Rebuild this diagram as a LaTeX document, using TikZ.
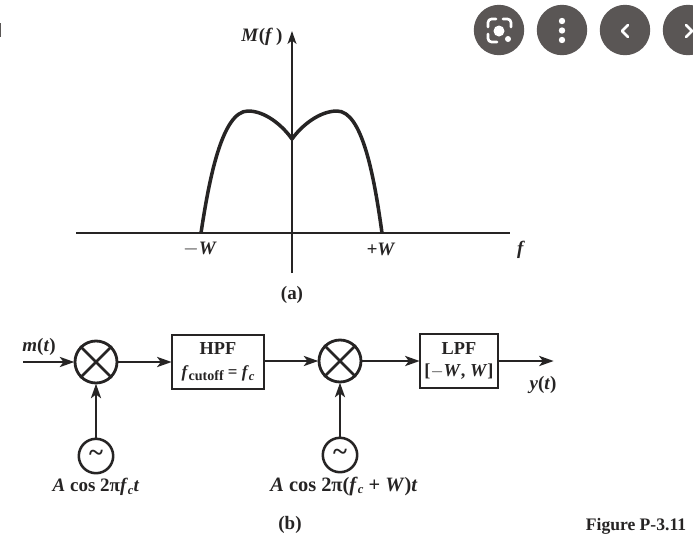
\documentclass[tikz,border=0pt]{standalone}
\usepackage{fontspec}
\setmainfont{Liberation Serif}
\usetikzlibrary{positioning}
\usetikzlibrary{arrows.meta}
\definecolor{ink}{HTML}{262424}
\definecolor{btn}{HTML}{5A5655}
\newcommand{\bi}[1]{\textbf{\textit{#1}}}
\newcommand{\subc}{\raisebox{-2pt}{\fontsize{9}{9}\selectfont\bi{c}}}
\newcommand{\wave}{\raisebox{-2pt}{\fontsize{19}{19}\selectfont\bfseries\symbol{"7E}}}
\begin{document}
\begin{tikzpicture}
  [x=0.025cm,y=-0.025cm,
  mixer/.style={circle,draw=ink,line width=2pt,inner sep=0pt,minimum size=1.05cm},
  osc/.style={circle,draw=ink,line width=1.8pt,inner sep=0pt,minimum size=.86cm,text=ink},
  filter/.style={rectangle,draw=ink,line width=1.5pt,inner sep=0pt,align=center,font=\fontsize{13}{15}\selectfont\bfseries,text=ink},
  lbl/.style={inner sep=0pt,text=ink,font=\fontsize{13.5}{15}\selectfont\bfseries},
  wire/.style={draw=ink,line width=1.9pt,-{Stealth[length=3.6mm,width=2.5mm,inset=.9mm]},shorten >=-.5pt},
  axis/.style={draw=ink,line width=1.3pt},
  cross/.style={draw=ink,line width=1.8pt},
  button/.style={circle,fill=btn,inner sep=0pt,minimum size=1.26cm},
  icon/.style={white,line width=1.9pt,line cap=round,line join=round}]
  \clip (0,0) rectangle (693,542);
  \fill[white] (0,0) rectangle (693,542);
  \fill[btn] (0,23) rectangle (1,37);

  % spectrum
  \coordinate (xl) at (76,233);
  \coordinate (xr) at (510,233);
  \coordinate (yb) at (292,273);
  \coordinate (yt) at (292,31);
  \draw[axis] (xl) -- (xr);
  \draw[axis,-{Stealth[length=3.2mm,width=2.2mm,inset=.8mm]}] (yb) -- (yt);
  \draw[ink,line width=2.5pt,line join=round] (201,233) .. controls (209,180) and (222,111) .. (248,111)
    .. controls (265,111) and (282,125) .. (292,139)
    .. controls (302,125) and (320,111) .. (337,111)
    .. controls (362,111) and (374,175) .. (382,233);
  \node[lbl] (mlabel) at (262,37) {\bi{M}(\bi{f}\,)};
  \node[lbl] (wneg) at (200,249) {\bi{$-$W}};
  \node[lbl] (wpos) at (381,249) {\bi{+W}};
  \node[lbl] (flabel) at (521,250) {\bi{f}};
  \node[lbl] (parta) at (292,295) {(a)};

  % block diagram
  \coordinate (in) at (23,362);
  \coordinate (out) at (553,361);
  \node[mixer] (mix1) at (96,362) {};
  \node[mixer] (mix2) at (340,361) {};
  \node[filter,minimum width=2.3cm,minimum height=1.37cm] (hpf) at (218,362) {HPF\\[1pt]{\fontsize{12}{14}\selectfont\bi{f}\raisebox{-2pt}{\fontsize{10}{10}\selectfont cutoff} = \bi{f}\subc}};
  \node[filter,minimum width=1.95cm,minimum height=1.37cm] (lpf) at (459,361) {LPF\\[1pt]{[}$-$\bi{W}, \bi{W}{]}};
  \node[osc] (osc1) at (96,456) {\wave};
  \node[osc] (osc2) at (340,455) {\wave};
  \draw[cross] (mix1.45) -- (mix1.225);
  \draw[cross] (mix1.135) -- (mix1.315);
  \draw[cross] (mix2.45) -- (mix2.225);
  \draw[cross] (mix2.135) -- (mix2.315);

  \draw[wire] (in) -- (mix1);
  \draw[wire] (mix1) -- (hpf);
  \draw[wire] (hpf.east |- mix2) -- (mix2);
  \draw[wire] (mix2) -- (lpf);
  \draw[wire] (lpf) -- (out);
  \draw[wire] (osc1) -- (mix1);
  \draw[wire] (osc2) -- (mix2);

  \node[lbl] (mt) at (39,347) {\bi{m}(\bi{t})};
  \node[lbl] (yout) at (543,385) {\bi{y}(\bi{t})};
  \node[lbl] (carrier1) at (96,487) {\bi{A} cos 2π\bi{f}\subc\bi{t}};
  \node[lbl,font=\fontsize{14.5}{16}\selectfont\bfseries] (carrier2) at (344,486) {\bi{A} cos 2π(\bi{f}\subc{} + \bi{W})\bi{t}};
  \node[lbl] (partb) at (290,525) {(b)};
  \node[lbl,font=\fontsize{12.5}{14}\selectfont\bfseries] (figlabel) at (636,526) {Figure P-3.11};

  % viewer buttons
  \node[button] (lens) at (499,30) {};
  \node[button] (more) at (562,30) {};
  \node[button] (prev) at (625,30) {};
  \node[button] (next) at (688,30) {};
  \draw[icon,rounded corners=2.5pt] (488,27) -- (488,19) -- (496,19);
  \draw[icon,rounded corners=2.5pt] (503,19) -- (511,19) -- (511,27);
  \draw[icon,rounded corners=2.5pt] (488,34) -- (488,42) -- (497,42);
  \fill[white] (499,31) circle (5.5);
  \fill[white] (508,39) circle (3);
  \fill[white] (562,21) circle (3.2);
  \fill[white] (562,30.5) circle (3.2);
  \fill[white] (562,40) circle (3.2);
  \draw[icon] (628,25) -- (622,31) -- (628,37);
  \draw[icon] (686,25) -- (692,31) -- (686,37);
\end{tikzpicture}
\end{document}
